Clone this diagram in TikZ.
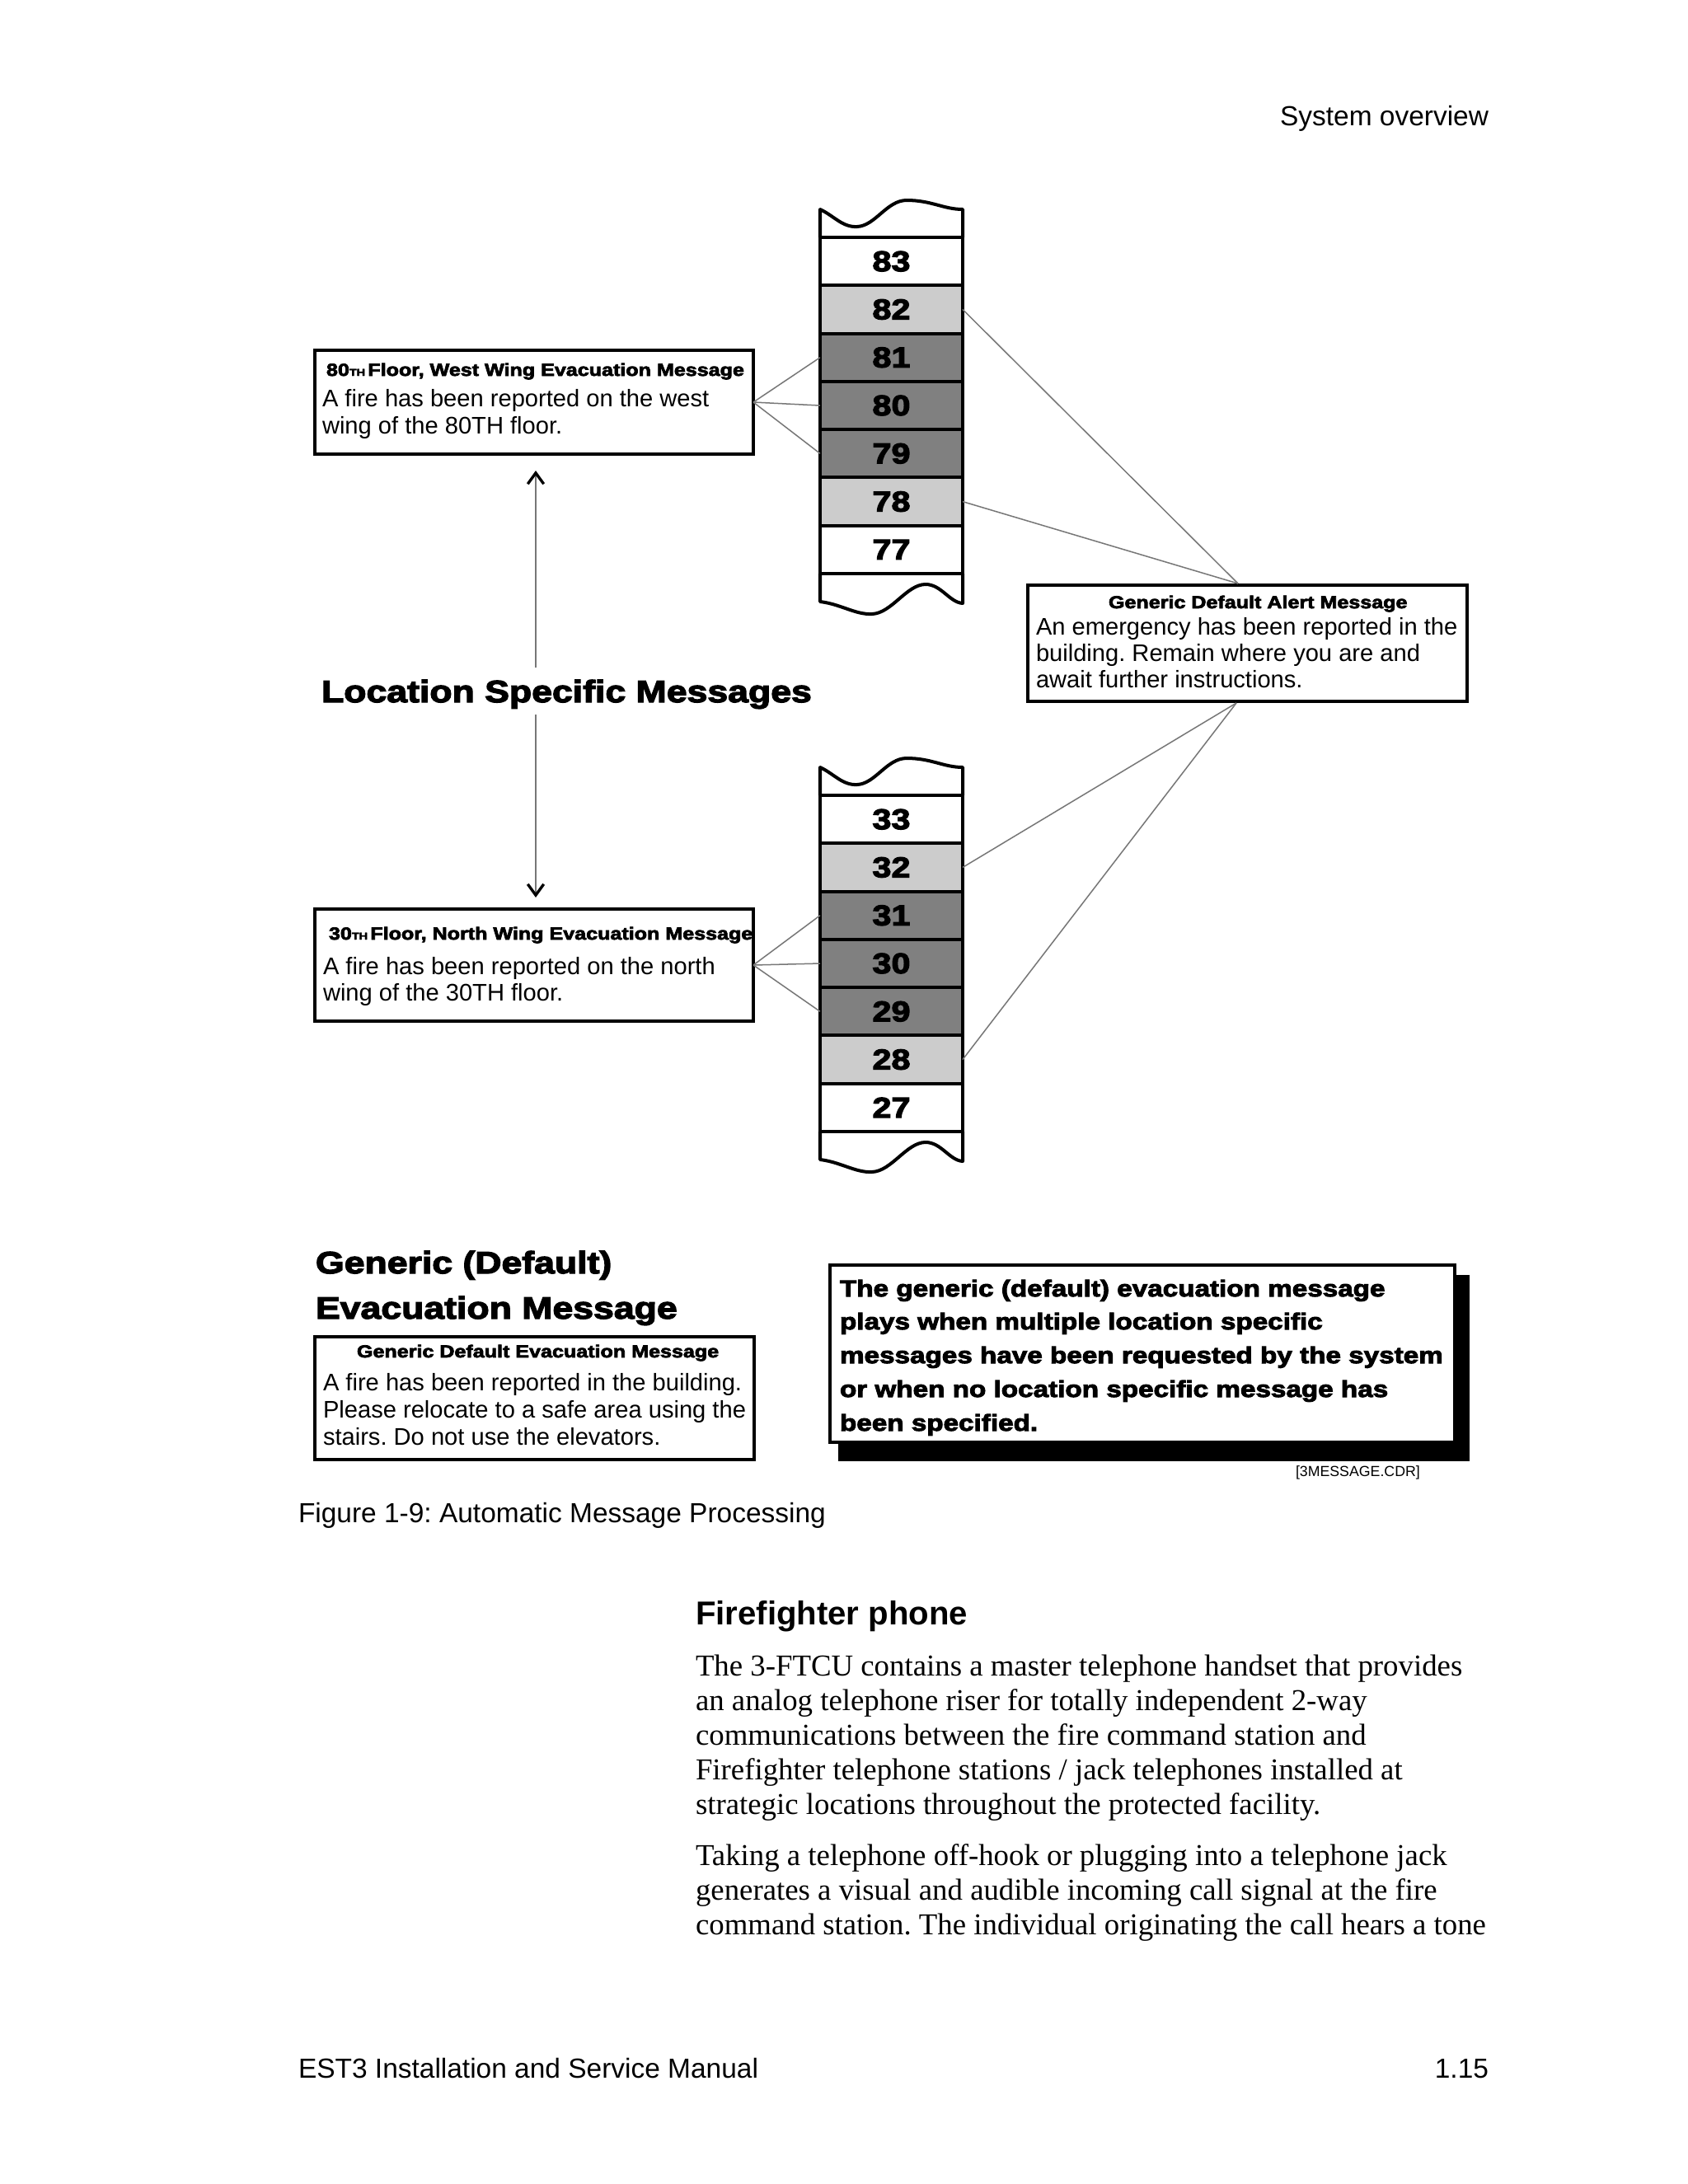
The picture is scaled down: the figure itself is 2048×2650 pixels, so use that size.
\documentclass[tikz,border=0pt]{standalone}
\usepackage{fontspec}
\setmainfont{Liberation Sans}
\newfontfamily\seriffam{Liberation Serif}
\newfontfamily\heavyfam[FakeStretch=1.19,FakeBold=3.5]{Liberation Sans Bold}
\usetikzlibrary{arrows.meta}
\newdimen\pxu \pxu=0.298828pt
\definecolor{lightg}{HTML}{CCCCCC}
\definecolor{darkg}{HTML}{808080}
\definecolor{connc}{HTML}{777777}
\newcommand\heavy{\heavyfam}
\newcommand\fs[1]{\fontsize{#1}{#1}\selectfont}
\frenchspacing
\tikzset{
  txt/.style={inner sep=0pt, outer sep=0pt, anchor=base west},
  cell/.style={draw, line width=1.2pt, minimum width=173\pxu, minimum height=58.29\pxu,
    inner sep=0pt, outer sep=0pt, font=\heavy\fs{10.4}},
  msgbox/.style={draw, line width=1.2pt, inner sep=0pt, outer sep=0pt, fill=white},
  capline/.style={line width=1.2pt, line join=round},
  conn/.style={draw=connc, line width=0.45pt},
  arr/.style={draw=connc, line width=0.45pt,
    -{Straight Barb[length=4pt,width=5.8pt,line width=1pt,color=black]}},
  body/.style={txt, font=\fs{8.7}},
  btitle/.style={txt, font=\heavy\fs{6.3}},
  para/.style={txt, font=\seriffam\fs{11}},
  note/.style={txt, font=\heavy\fs{8.35}},
  head/.style={txt, font=\heavy\fs{11.2}},
}
\begin{document}
\frenchspacing
\begin{tikzpicture}[x=0.298828pt, y=-0.298828pt]
\fill[white] (0,0) rectangle (2048,2650);
\useasboundingbox (0,0) rectangle (2048,2650);

% header / footer
\node[txt, anchor=base east, font=\fs{10}] (hdr) at (1806,152) {System overview};
\node[txt, font=\fs{10}] (ftl) at (362,2521) {EST3 Installation and Service Manual};
\node[txt, anchor=base east, font=\fs{10}] (ftr) at (1806,2521) {1.15};

% ---- stacks ----
\foreach \n/\f [count=\i from 0] in {83/white,82/lightg,81/darkg,80/darkg,79/darkg,78/lightg,77/white}
  \node[cell, fill=\f] (c\n) at (1081.5,{317.14+58.29*\i}) {\n};
\foreach \n/\f [count=\i from 0] in {33/white,32/lightg,31/darkg,30/darkg,29/darkg,28/lightg,27/white}
  \node[cell, fill=\f] (c\n) at (1081.5,{994.14+58.29*\i}) {\n};

\foreach \dy in {0,677}{
  \begin{scope}[shift={(0,\dy)}]
    \draw[capline] (995,288) -- (995,254)
      .. controls (1012,262) and (1022,276) .. (1040,275)
      .. controls (1062,274) and (1076,243) .. (1100,243)
      .. controls (1130,243) and (1145,254) .. (1168,254) -- (1168,288);
    \draw[capline] (995,696) -- (995,730)
      .. controls (1020,733) and (1038,746) .. (1058,745)
      .. controls (1082,744) and (1100,709) .. (1123,709)
      .. controls (1142,709) and (1152,731) .. (1168,732) -- (1168,696);
  \end{scope}
}

% ---- location specific boxes ----
\node[msgbox, minimum width=532\pxu, minimum height=126\pxu] (b80) at (648,488) {};
\node[btitle] (t80) at (396,456) {80{\fs{3.6}TH}\kern1pt Floor, West Wing Evacuation Message};
\node[body] (t80a) at (391,493) {A fire has been reported on the west};
\node[body] (t80b) at (391,526) {wing of the 80TH floor.};

\node[msgbox, minimum width=532\pxu, minimum height=136\pxu] (b30) at (648,1171) {};
\node[btitle] (t30) at (399,1140) {30{\fs{3.6}TH}\kern1pt Floor, North Wing Evacuation Message};
\node[body] (t30a) at (392,1182) {A fire has been reported on the north};
\node[body] (t30b) at (392,1214) {wing of the 30TH floor.};

\draw[conn] (b80.east) -- (c81.west);
\draw[conn] (b80.east) -- (c80.west);
\draw[conn] (b80.east) -- (c79.west);
\draw[conn] (b30.east) -- (c31.west);
\draw[conn] (b30.east) -- (c30.west);
\draw[conn] (b30.east) -- (c29.west);

% heading + arrows
\node[head] (loc) at (390,852) {Location Specific Messages};
\coordinate (aup) at (650,810);
\coordinate (adn) at (650,867);
\draw[arr, shorten >=20\pxu] (aup) -- (b80.south -| aup);
\draw[arr, shorten >=14\pxu] (adn) -- (b30.north -| adn);

% ---- generic alert box ----
\node[msgbox, minimum width=533\pxu, minimum height=141\pxu] (alert) at (1513.5,780.5) {};
\node[btitle] (tal) at (1345,738) {Generic Default Alert Message};
\node[body] (tala) at (1257,770) {An emergency has been reported in the};
\node[body] (talb) at (1257,802) {building. Remain where you are and};
\node[body] (talc) at (1257,834) {await further instructions.};
\coordinate (altop) at (1502,708);
\coordinate (albot) at (1500,853);
\draw[conn] (c82.east) -- (altop);
\draw[conn] (c78.east) -- (altop);
\draw[conn] (c32.east) -- (albot);
\draw[conn] (c28.east) -- (albot);

% ---- generic evacuation ----
\node[head] (gh1) at (383,1545) {Generic (Default)};
\node[head] (gh2) at (383,1600) {Evacuation Message};
\node[msgbox, minimum width=533\pxu, minimum height=149\pxu] (evac) at (648.5,1696.5) {};
\node[btitle] (tev) at (433,1647) {Generic Default Evacuation Message};
\node[body] (teva) at (392,1687) {A fire has been reported in the building.};
\node[body] (tevb) at (392,1720) {Please relocate to a safe area using the};
\node[body] (tevc) at (392,1753) {stairs. Do not use the elevators.};

% ---- note box with shadow ----
\node[fill=black, inner sep=0pt, outer sep=0pt, minimum width=766\pxu, minimum height=226\pxu] (shadow) at (1400,1660) {};
\node[msgbox, minimum width=758\pxu, minimum height=215\pxu] (notebox) at (1386,1642.5) {};
\node[note] (n1) at (1019,1573) {The generic (default) evacuation message};
\node[note] (n2) at (1019,1613) {plays when multiple location specific};
\node[note] (n3) at (1019,1654) {messages have been requested by the system};
\node[note] (n4) at (1019,1695) {or when no location specific message has};
\node[note] (n5) at (1019,1736) {been specified.};
\node[txt, font=\fs{5.3}] (cdr) at (1572,1791) {[3MESSAGE.CDR]};

% caption
\node[txt, font=\fs{10}] (cap) at (362,1847) {Figure 1-9: Automatic Message Processing};

% ---- body text ----
\node[txt, font=\bfseries\fs{12}] (sec) at (844,1971) {Firefighter phone};
\node[para] (p1) at (844,2033) {The 3-FTCU contains a master telephone handset that provides};
\node[para] (p2) at (844,2075) {an analog telephone riser for totally independent 2-way};
\node[para] (p3) at (844,2117) {communications between the fire command station and};
\node[para] (p4) at (844,2159) {Firefighter telephone stations / jack telephones installed at};
\node[para] (p5) at (844,2201) {strategic locations throughout the protected facility.};
\node[para] (p6) at (844,2263) {Taking a telephone off-hook or plugging into a telephone jack};
\node[para] (p7) at (844,2305) {generates a visual and audible incoming call signal at the fire};
\node[para] (p8) at (844,2347) {command station. The individual originating the call hears a tone};
\end{tikzpicture}
\end{document}
